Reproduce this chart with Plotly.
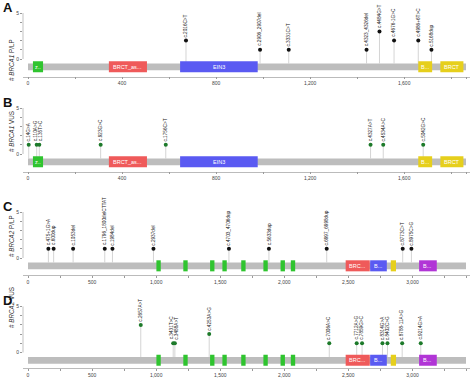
import plotly.graph_objects as go

W, H = 474, 379
FONT = "Liberation Sans, Arial, sans-serif"

# ---------------- data ----------------
brca1_len = 1863
brca2_len = 3418

b1_dom_start = [21, 344, 647, 1660, 1754]
b1_dom_end = [64, 506, 977, 1719, 1852]
b1_dom_label = ["z..", "BRCT_as...", "EIN3", "B...", "BRCT"]
b1_dom_kind = ["g", "r", "b", "y", "y"]

b2_dom_start = [1002, 1212, 1421, 1517, 1664, 1837, 1971, 2051, 2479, 2670, 2831, 3052]
b2_dom_end = [1036, 1246, 1455, 1551, 1698, 1871, 2005, 2085, 2667, 2800, 2872, 3190]
b2_dom_label = ["", "", "", "", "", "", "", "", "BRC...", "B...", "", "B..."]
b2_dom_kind = ["g", "g", "g", "g", "g", "g", "g", "g", "r", "b", "y", "p"]

a_pos = [672, 987, 1109, 1440, 1495, 1557, 1660, 1716]
a_cnt = [2, 1, 1, 1, 3, 2, 2, 1]
a_lab = ["c.2016C>T", "c.2906_2907del", "c.3331C>T", "c.4323_4326del",
         "c.4484G>T", "c.4676-1G>C", "c.4986+6T>C", "c.5168dup"]

b_pos = [3, 37, 48, 309, 586, 1457, 1511, 1681]
b_cnt = [1, 1, 1, 1, 1, 1, 1, 1]
b_lab = ["c.14G>A", "c.110A>G", "c.135T>C", "c.923G>C", "c.1756C>T",
         "c.4327A>T", "c.4534A>C", "c.5042G>C"]

c_pos = [159, 200, 352, 599, 659, 979, 1568, 1880, 2331, 2924, 2992]
c_cnt = [1, 1, 1, 1, 1, 1, 1, 1, 1, 1, 1]
c_lab = ["c.475+1G>A", "c.600dup", "c.1053del", "c.1796_1800delCTTAT", "c.1984del",
         "c.2937del", "c.4703_4706dup", "c.5633dup", "c.6997_6998dup",
         "c.8773C>T", "c.8975C>G"]

d_pos = [880, 1133, 1146, 1414, 2351, 2565, 2607, 2766, 2805, 2920, 3065]
d_cnt = [3, 1, 1, 2, 1, 1, 1, 1, 1, 1, 1]
d_lab = ["c.2657A>T", "c.3431T>C", "c.3488A>T", "c.4253A>G", "c.7006A>C",
         "c.7712A>G", "c.7859G>C", "c.8314G>A", "c.8402C>G", "c.8788-11A>G",
         "c.9214G>A"]

b1_ticks = [0, 200, 400, 600, 800, 1000, 1200, 1400, 1600, 1800, 1863]
b1_ticktext = ["0", "", "400", "", "800", "", "1,200", "", "1,600", "", "1863aa"]
b2_ticks = [0, 250, 500, 750, 1000, 1250, 1500, 1750, 2000, 2250, 2500, 2750, 3000, 3250, 3418]
b2_ticktext = ["0", "", "500", "", "1,000", "", "1,500", "", "2,000", "", "2,500", "", "3,000", "", "3418aa"]

# ---------------- style ----------------
dom_colors = {"g": "#2fc42f", "r": "#ef5a5a", "b": "#5a5af2", "y": "#e6cf1c", "p": "#b135d6"}
bar_color = "#bdbdbd"
stem_color = "#c9c9c9"

panels = [
    dict(letter="A", title="# <i>BRCA1</i> P/LP", length=brca1_len,
         ds=b1_dom_start, de=b1_dom_end, dl=b1_dom_label, dk=b1_dom_kind,
         pos=a_pos, cnt=a_cnt, lab=a_lab, dot="#111111",
         ticks=b1_ticks, ticktext=b1_ticktext, y0=59, below=17.5),
    dict(letter="B", title="# <i>BRCA1</i> VUS", length=brca1_len,
         ds=b1_dom_start, de=b1_dom_end, dl=b1_dom_label, dk=b1_dom_kind,
         pos=b_pos, cnt=b_cnt, lab=b_lab, dot="#1d7a2a",
         ticks=b1_ticks, ticktext=b1_ticktext, y0=154, below=17.5),
    dict(letter="C", title="# <i>BRCA2</i> P/LP", length=brca2_len,
         ds=b2_dom_start, de=b2_dom_end, dl=b2_dom_label, dk=b2_dom_kind,
         pos=c_pos, cnt=c_cnt, lab=c_lab, dot="#111111",
         ticks=b2_ticks, ticktext=b2_ticktext, y0=258, below=17),
    dict(letter="D", title="# <i>BRCA2</i> VUS", length=brca2_len,
         ds=b2_dom_start, de=b2_dom_end, dl=b2_dom_label, dk=b2_dom_kind,
         pos=d_pos, cnt=d_cnt, lab=d_lab, dot="#1d7a2a",
         ticks=b2_ticks, ticktext=b2_ticktext, y0=352.5, below=15.5),
]

PX_LEFT, PX_ZERO, PX_END, PX_RIGHT = 23, 28, 466, 470
YSCALE = 9.2          # px per count
ABOVE = 51
BAR_C, BAR_H, DOM_H = -0.85, 0.36, 0.6

fig = go.Figure()
shapes, annots = [], []
layout = {}

for i, p in enumerate(panels):
    n = "" if i == 0 else str(i + 1)
    xa, ya = "x" + n, "y" + n
    s = (PX_END - PX_ZERO) / p["length"]
    xr = [(PX_LEFT - PX_ZERO) / s, (PX_RIGHT - PX_ZERO) / s]
    yr = [-p["below"] / YSCALE, ABOVE / YSCALE]
    top_px, bot_px = p["y0"] - ABOVE, p["y0"] + p["below"]

    layout["xaxis" + n] = dict(
        domain=[PX_LEFT / W, PX_RIGHT / W], range=xr, anchor=ya,
        tickvals=p["ticks"], ticktext=p["ticktext"], ticks="outside", ticklen=2,
        tickcolor="#999", tickwidth=0.6, showline=True, linecolor="#bbb", linewidth=0.6,
        showgrid=False, zeroline=False, tickfont=dict(size=5, color="#444", family=FONT),
        fixedrange=True, automargin=False)
    layout["yaxis" + n] = dict(
        domain=[1 - bot_px / H, 1 - top_px / H], range=yr, anchor=xa,
        tickvals=[0, 1, 2, 3, 4, 5], ticktext=["0", "", "", "", "", "5"],
        ticks="outside", ticklen=2, tickcolor="#999", tickwidth=0.6,
        showline=False, showgrid=False, zeroline=False,
        tickfont=dict(size=5, color="#444", family=FONT), fixedrange=True,
        automargin=False)

    # y axis line from 0 to 5
    shapes.append(dict(type="line", xref=xa + " domain", yref=ya, x0=0, x1=0, y0=0, y1=5,
                       line=dict(color="#999", width=0.6)))
    # protein backbone
    shapes.append(dict(type="rect", xref=xa, yref=ya, x0=0, x1=p["length"],
                       y0=BAR_C - BAR_H, y1=BAR_C + BAR_H, fillcolor=bar_color,
                       line=dict(width=0), layer="below"))
    # domains
    for a, b, l, k in zip(p["ds"], p["de"], p["dl"], p["dk"]):
        shapes.append(dict(type="rect", xref=xa, yref=ya, x0=a, x1=b,
                           y0=BAR_C - DOM_H, y1=BAR_C + DOM_H, fillcolor=dom_colors[k],
                           line=dict(width=0)))
        if l:
            annots.append(dict(x=(a + b) / 2, y=BAR_C, xref=xa, yref=ya, text=l,
                               showarrow=False, font=dict(size=5.5, color="white", family=FONT)))

    # stems
    sx, sy = [], []
    for x, c in zip(p["pos"], p["cnt"]):
        sx += [x, x, None]
        sy += [BAR_C + BAR_H, c, None]
    fig.add_trace(go.Scatter(x=sx, y=sy, mode="lines", xaxis=xa, yaxis=ya,
                             line=dict(color=stem_color, width=0.8),
                             hoverinfo="skip", showlegend=False))
    fig.add_trace(go.Scatter(x=p["pos"], y=p["cnt"], mode="markers", xaxis=xa, yaxis=ya,
                             marker=dict(color=p["dot"], size=4),
                             text=p["lab"], hoverinfo="text", showlegend=False))

    # variant labels (spread apart when they would overlap)
    order = sorted(range(len(p["pos"])), key=lambda j: p["pos"][j])
    pxs = [p["pos"][j] * s for j in order]
    placed = []
    for v in pxs:
        placed.append(v if not placed or v - placed[-1] >= 5 else placed[-1] + 5)
    shifts = [a - b for a, b in zip(placed, pxs)]
    k = 0
    while k < len(order):
        m = k
        while m + 1 < len(order) and placed[m + 1] - placed[m] <= 5.01 and shifts[m + 1] > 0:
            m += 1
        mean = sum(shifts[k:m + 1]) / (m - k + 1)
        for q in range(k, m + 1):
            shifts[q] -= mean
        k = m + 1
    for idx, j in enumerate(order):
        annots.append(dict(x=p["pos"][j], y=p["cnt"][j], xref=xa, yref=ya, text=p["lab"][j],
                           textangle=-90, showarrow=False, xanchor="center", yanchor="bottom",
                           yshift=2.5, xshift=shifts[idx], borderpad=0,
                           font=dict(size=4.7, color="#222", family=FONT)))

    # y title and panel letter
    annots.append(dict(x=5.5 / W, y=1 - (p["y0"] - 22) / H, xref="paper", yref="paper",
                       text=p["title"], textangle=-90, showarrow=False,
                       font=dict(size=6.3, color="#333", family=FONT)))
    annots.append(dict(x=0.5 / W, y=1 - (p["y0"] - 52) / H, xref="paper", yref="paper",
                       text="<b>" + p["letter"] + "</b>", showarrow=False,
                       xanchor="left", yanchor="middle",
                       font=dict(size=13, color="#111", family=FONT)))

fig.update_layout(width=W, height=H, margin=dict(l=0, r=0, t=0, b=0),
                  paper_bgcolor="white", plot_bgcolor="white",
                  shapes=shapes, annotations=annots, **layout)
fig.write_html("out.html", config={"displayModeBar": False},
               post_script="document.body.style.margin='0';document.body.style.overflow='hidden';")
